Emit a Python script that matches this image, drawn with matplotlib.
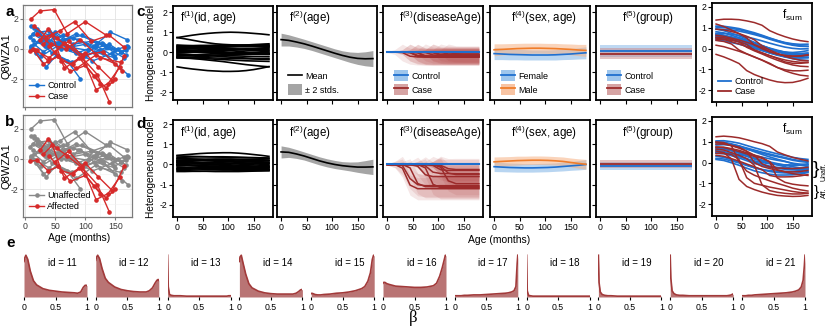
import numpy as np
import matplotlib.pyplot as plt
from matplotlib.lines import Line2D
from matplotlib.patches import Patch

plt.rcParams['font.family'] = ['Liberation Sans', 'DejaVu Sans']
plt.rcParams['mathtext.fontset'] = 'custom'
plt.rcParams['mathtext.rm'] = 'Liberation Sans'
plt.rcParams['mathtext.default'] = 'regular'
plt.rcParams['axes.unicode_minus'] = False

# ------------------------------------------------------------------ data
# individuals: 14 controls followed by 10 cases
GROUP = ['Control'] * 14 + ['Case'] * 10
SEX = ['M', 'F', 'M', 'F', 'F', 'M', 'M', 'F', 'M', 'F', 'M', 'F', 'F', 'M',
       'M', 'F', 'F', 'M', 'F', 'M', 'F', 'M', 'F', 'M']
AFFECTED = [False] * 14 + [False, False, True, True, True, True, False, False, False, True]

# raw measurements (panels a, b)
RAW_AGES = [
    [10, 22, 40, 65, 95, 130],
    [12, 28, 50, 80, 110, 150, 170],
    [8, 20, 35, 60, 90],
    [15, 30, 55, 75, 100, 135, 165],
    [10, 25, 45, 70, 92],
    [20, 40, 60, 85, 120, 160],
    [12, 32, 48, 75, 105, 140, 168],
    [18, 35, 52, 78, 115, 150],
    [25, 50, 80, 115, 142, 170],
    [10, 30, 60, 100, 130, 171],
    [14, 36, 62, 88, 125, 155],
    [22, 45, 70, 98, 128, 160, 172],
    [9, 26, 58, 84, 112, 145],
    [30, 55, 85, 118, 148, 168],
    [10, 24, 48, 70, 100, 135],
    [15, 35, 58, 82, 110, 140, 165],
    [8, 20, 38, 55, 75, 100, 125],
    [25, 38, 52, 70, 95, 120, 140],
    [30, 45, 65, 90, 115, 135, 150],
    [40, 60, 80, 100, 122, 145, 165],
    [12, 30, 55, 85, 118, 150],
    [20, 42, 68, 92, 125, 160],
    [16, 40, 64, 96, 130, 162],
    [50, 72, 95, 118, 138, 158],
]
RAW_VALS = [
    [1.5, 1.1, 1.2, 0.6, 0.9, 0.3],
    [1.0, 0.6, 1.1, 0.3, 0.5, -0.1, 0.2],
    [0.8, 1.3, 0.2, 0.5, -0.3],
    [0.3, -0.2, 0.4, 0.0, -0.5, 0.1, -0.6],
    [0.1, 0.5, -0.3, -0.8, -2.0],
    [1.2, 0.9, 0.5, 1.0, 0.4, -0.2],
    [0.6, 0.2, 0.8, 0.1, -0.1, 0.3, -0.4],
    [-0.3, -1.2, -0.4, -0.9, -0.2, -0.6],
    [0.9, 0.4, 0.7, 0.2, 1.1, 0.6],
    [0.2, 0.7, 0.0, 0.3, -0.3, -1.7],
    [1.4, 0.4, 0.9, 0.6, -0.1, 0.0],
    [0.5, 1.0, 0.2, -0.4, 0.4, -0.2, 0.1],
    [0.0, -0.5, 0.3, -0.2, -0.8, -0.3],
    [0.8, 0.1, -0.3, 0.2, -0.5, -0.1],
    [2.0, 2.5, 2.6, 1.0, 1.8, 0.9],
    [1.5, 0.8, 1.2, 1.8, 0.5, 0.9, 0.1],
    [-0.15, -0.1, -0.8, -0.5, -1.5, -1.1, -2.3],
    [0.6, 1.3, 0.7, 0.2, -0.6, -1.7, -3.5],
    [0.3, 0.9, -1.3, -0.6, -1.8, -2.6, -2.0],
    [0.2, -0.8, -1.0, -0.3, -1.2, -2.1, -0.5],
    [0.0, -1.0, -0.5, -1.3, -0.4, -1.0],
    [1.0, 0.3, 0.0, 0.6, -0.6, -0.9],
    [-0.1, -0.6, 0.4, -0.4, -0.2, -1.5],
    [-0.2, 0.5, -0.5, -2.7, -2.3, -1.2],
]

# model components on a common age grid (months)
AGE = np.array([0, 15, 30, 45, 60, 75, 90, 105, 120, 135, 150, 165, 180])

# homogeneous model
F1_HOM = [
    [0.30, 0.31, 0.32, 0.33, 0.33, 0.34, 0.34, 0.34, 0.34, 0.33, 0.33, 0.32, 0.31],
    [0.22, 0.22, 0.21, 0.20, 0.19, 0.18, 0.17, 0.16, 0.15, 0.14, 0.13, 0.12, 0.11],
    [0.15, 0.17, 0.19, 0.21, 0.23, 0.25, 0.27, 0.28, 0.29, 0.30, 0.30, 0.30, 0.30],
    [0.08, 0.09, 0.10, 0.11, 0.12, 0.12, 0.12, 0.12, 0.12, 0.11, 0.10, 0.09, 0.08],
    [0.02, 0.01, 0.00, -0.01, -0.02, -0.03, -0.04, -0.05, -0.06, -0.07, -0.08, -0.09, -0.10],
    [-0.05, -0.03, -0.01, 0.01, 0.03, 0.05, 0.07, 0.09, 0.11, 0.13, 0.15, 0.17, 0.19],
    [-0.12, -0.13, -0.14, -0.15, -0.16, -0.17, -0.18, -0.19, -0.20, -0.21, -0.22, -0.23, -0.24],
    [-0.18, -0.16, -0.14, -0.12, -0.10, -0.08, -0.06, -0.05, -0.04, -0.03, -0.02, -0.02, -0.02],
    [-0.25, -0.26, -0.27, -0.28, -0.29, -0.30, -0.31, -0.32, -0.33, -0.34, -0.35, -0.36, -0.37],
    [0.35, 0.33, 0.31, 0.28, 0.25, 0.22, 0.19, 0.16, 0.13, 0.10, 0.07, 0.04, 0.02],
    [-0.28, -0.27, -0.25, -0.23, -0.21, -0.19, -0.17, -0.15, -0.13, -0.11, -0.10, -0.09, -0.08],
    [0.12, 0.11, 0.09, 0.07, 0.05, 0.03, 0.01, -0.01, -0.03, -0.05, -0.07, -0.09, -0.11],
    [-0.02, 0.00, 0.02, 0.04, 0.06, 0.08, 0.10, 0.12, 0.14, 0.16, 0.18, 0.20, 0.22],
    [0.25, 0.26, 0.27, 0.28, 0.29, 0.30, 0.31, 0.32, 0.33, 0.35, 0.37, 0.39, 0.41],
    [0.72, 0.78, 0.84, 0.89, 0.93, 0.96, 0.98, 0.99, 0.98, 0.96, 0.93, 0.90, 0.86],
    [0.72, 0.66, 0.59, 0.52, 0.46, 0.41, 0.38, 0.36, 0.35, 0.35, 0.35, 0.36, 0.37],
    [-0.74, -0.80, -0.85, -0.89, -0.93, -0.95, -0.97, -0.97, -0.96, -0.93, -0.88, -0.81, -0.73],
    [-0.26, -0.29, -0.32, -0.36, -0.40, -0.44, -0.48, -0.53, -0.58, -0.63, -0.67, -0.71, -0.74],
    [-0.30, -0.31, -0.32, -0.33, -0.34, -0.36, -0.38, -0.40, -0.42, -0.44, -0.45, -0.46, -0.47],
    [0.28, 0.27, 0.25, 0.22, 0.19, 0.15, 0.11, 0.07, 0.03, 0.00, -0.03, -0.06, -0.08],
    [0.05, 0.04, 0.03, 0.02, 0.01, -0.01, -0.03, -0.05, -0.07, -0.09, -0.11, -0.12, -0.13],
    [-0.10, -0.11, -0.13, -0.15, -0.17, -0.20, -0.23, -0.26, -0.28, -0.30, -0.32, -0.33, -0.34],
    [0.18, 0.19, 0.20, 0.21, 0.22, 0.23, 0.24, 0.25, 0.26, 0.26, 0.27, 0.27, 0.27],
    [-0.20, -0.19, -0.18, -0.17, -0.16, -0.15, -0.14, -0.13, -0.12, -0.11, -0.10, -0.09, -0.08],
]
F2_HOM = [0.62, 0.58, 0.50, 0.41, 0.30, 0.18, 0.06, -0.06, -0.17, -0.26, -0.32, -0.34, -0.33]
F2_HOM_SD = [0.32, 0.28, 0.25, 0.23, 0.22, 0.22, 0.22, 0.22, 0.23, 0.26, 0.30, 0.35, 0.40]
F3_HOM = [  # one row per case
    [0, 0, 0, 0, 0, 0, -0.03, -0.17, -0.20, -0.20, -0.20, -0.20, -0.20],
    [0, 0, 0, 0, -0.03, -0.19, -0.22, -0.22, -0.22, -0.22, -0.22, -0.22, -0.22],
    [0, 0, 0, -0.03, -0.21, -0.25, -0.25, -0.25, -0.25, -0.25, -0.25, -0.25, -0.25],
    [0, 0, -0.03, -0.21, -0.25, -0.25, -0.25, -0.25, -0.25, -0.25, -0.25, -0.25, -0.25],
    [0, 0, 0, 0, 0, 0, 0, -0.02, -0.10, -0.12, -0.12, -0.12, -0.12],
    [0, 0, 0, 0, 0, -0.02, -0.15, -0.18, -0.18, -0.18, -0.18, -0.18, -0.18],
    [0, 0, 0, 0, 0, 0, 0, 0, -0.02, -0.09, -0.10, -0.10, -0.10],
    [0, 0, 0, -0.03, -0.17, -0.20, -0.20, -0.20, -0.20, -0.20, -0.20, -0.20, -0.20],
    [0, 0, 0, 0, 0, 0, -0.02, -0.12, -0.14, -0.14, -0.14, -0.14, -0.14],
    [0, 0, 0, 0, -0.04, -0.22, -0.25, -0.25, -0.25, -0.25, -0.25, -0.25, -0.25],
]
F3_HOM_SD = [
    [0.02, 0.02, 0.02, 0.02, 0.02, 0.12, 0.42, 0.40, 0.40, 0.40, 0.40, 0.40, 0.40],
    [0.02, 0.02, 0.02, 0.12, 0.42, 0.40, 0.40, 0.40, 0.40, 0.40, 0.40, 0.40, 0.40],
    [0.02, 0.02, 0.12, 0.42, 0.40, 0.40, 0.40, 0.40, 0.40, 0.40, 0.40, 0.40, 0.40],
    [0.02, 0.12, 0.42, 0.40, 0.40, 0.40, 0.40, 0.40, 0.40, 0.40, 0.40, 0.40, 0.40],
    [0.02, 0.02, 0.02, 0.02, 0.02, 0.02, 0.12, 0.42, 0.40, 0.40, 0.40, 0.40, 0.40],
    [0.02, 0.02, 0.02, 0.02, 0.12, 0.42, 0.40, 0.40, 0.40, 0.40, 0.40, 0.40, 0.40],
    [0.02, 0.02, 0.02, 0.02, 0.02, 0.02, 0.02, 0.12, 0.42, 0.40, 0.40, 0.40, 0.40],
    [0.02, 0.02, 0.12, 0.42, 0.40, 0.40, 0.40, 0.40, 0.40, 0.40, 0.40, 0.40, 0.40],
    [0.02, 0.02, 0.02, 0.02, 0.02, 0.12, 0.42, 0.40, 0.40, 0.40, 0.40, 0.40, 0.40],
    [0.02, 0.02, 0.02, 0.12, 0.42, 0.40, 0.40, 0.40, 0.40, 0.40, 0.40, 0.40, 0.40],
]
F4_HOM = {
    'F': [-0.08, -0.10, -0.12, -0.13, -0.14, -0.15, -0.15, -0.15, -0.14, -0.12, -0.10, -0.07, -0.04],
    'M': [0.11, 0.13, 0.15, 0.17, 0.18, 0.19, 0.19, 0.18, 0.17, 0.15, 0.13, 0.10, 0.08],
}
F4_HOM_SD = [0.30, 0.28, 0.27, 0.26, 0.26, 0.25, 0.25, 0.25, 0.26, 0.26, 0.27, 0.28, 0.30]
F5_HOM = {'Control': 0.05, 'Case': -0.08}
F5_HOM_SD = 0.28

# heterogeneous model
F1_HET = [
    [0.35, 0.36, 0.37, 0.38, 0.38, 0.38, 0.38, 0.37, 0.36, 0.35, 0.34, 0.33, 0.32],
    [0.28, 0.27, 0.26, 0.25, 0.24, 0.22, 0.20, 0.18, 0.16, 0.14, 0.12, 0.10, 0.08],
    [0.20, 0.22, 0.24, 0.25, 0.26, 0.27, 0.27, 0.27, 0.26, 0.25, 0.24, 0.23, 0.22],
    [0.12, 0.12, 0.11, 0.10, 0.09, 0.08, 0.06, 0.04, 0.02, 0.00, -0.02, -0.04, -0.06],
    [0.05, 0.06, 0.08, 0.10, 0.12, 0.13, 0.14, 0.15, 0.15, 0.15, 0.14, 0.13, 0.12],
    [-0.02, -0.03, -0.05, -0.07, -0.09, -0.11, -0.13, -0.15, -0.17, -0.19, -0.21, -0.23, -0.25],
    [-0.08, -0.07, -0.05, -0.03, -0.01, 0.01, 0.03, 0.04, 0.05, 0.06, 0.06, 0.06, 0.05],
    [-0.15, -0.16, -0.17, -0.18, -0.19, -0.20, -0.21, -0.22, -0.23, -0.24, -0.25, -0.26, -0.27],
    [-0.22, -0.20, -0.18, -0.16, -0.14, -0.13, -0.12, -0.11, -0.11, -0.11, -0.11, -0.12, -0.13],
    [-0.30, -0.31, -0.32, -0.33, -0.34, -0.35, -0.35, -0.35, -0.35, -0.34, -0.33, -0.32, -0.30],
    [0.30, 0.29, 0.27, 0.25, 0.22, 0.19, 0.16, 0.13, 0.10, 0.07, 0.04, 0.01, -0.02],
    [0.00, 0.01, 0.02, 0.02, 0.02, 0.01, 0.00, -0.02, -0.04, -0.06, -0.08, -0.10, -0.12],
    [-0.25, -0.24, -0.23, -0.22, -0.21, -0.20, -0.19, -0.18, -0.17, -0.16, -0.16, -0.16, -0.16],
    [0.15, 0.17, 0.19, 0.20, 0.21, 0.22, 0.22, 0.22, 0.22, 0.21, 0.20, 0.19, 0.18],
    [0.45, 0.48, 0.51, 0.54, 0.56, 0.57, 0.58, 0.58, 0.56, 0.53, 0.49, 0.45, 0.40],
    [0.42, 0.41, 0.40, 0.39, 0.38, 0.37, 0.36, 0.35, 0.34, 0.33, 0.32, 0.31, 0.30],
    [0.00, -0.03, -0.06, -0.09, -0.12, -0.15, -0.18, -0.20, -0.23, -0.25, -0.27, -0.29, -0.30],
    [0.20, 0.17, 0.13, 0.09, 0.05, 0.01, -0.03, -0.07, -0.11, -0.15, -0.19, -0.22, -0.25],
    [0.10, 0.09, 0.07, 0.05, 0.02, -0.01, -0.05, -0.09, -0.13, -0.17, -0.20, -0.23, -0.25],
    [-0.05, -0.05, -0.06, -0.06, -0.07, -0.07, -0.08, -0.08, -0.09, -0.09, -0.10, -0.10, -0.10],
    [-0.20, -0.21, -0.22, -0.23, -0.24, -0.25, -0.25, -0.25, -0.24, -0.23, -0.22, -0.21, -0.20],
    [0.10, 0.10, 0.10, 0.09, 0.09, 0.08, 0.08, 0.07, 0.07, 0.06, 0.06, 0.05, 0.05],
    [0.20, 0.21, 0.22, 0.23, 0.24, 0.24, 0.24, 0.24, 0.23, 0.22, 0.21, 0.20, 0.20],
    [-0.35, -0.35, -0.34, -0.34, -0.33, -0.33, -0.32, -0.32, -0.31, -0.31, -0.30, -0.30, -0.30],
]
F2_HET = [0.62, 0.60, 0.52, 0.42, 0.30, 0.18, 0.08, 0.00, -0.06, -0.10, -0.13, -0.13, -0.12]
F2_HET_SD = [0.30, 0.25, 0.22, 0.20, 0.20, 0.20, 0.20, 0.20, 0.20, 0.22, 0.26, 0.32, 0.38]
F3_HET = [
    [0, 0, 0, 0, 0, 0, 0, -0.04, -0.21, -0.25, -0.25, -0.25, -0.25],
    [0, 0, 0, 0, 0, -0.07, -0.38, -0.45, -0.45, -0.45, -0.45, -0.45, -0.45],
    [0, 0, -0.18, -1.02, -1.20, -1.20, -1.20, -1.20, -1.20, -1.20, -1.20, -1.20, -1.20],
    [0, 0, -0.05, -0.70, -1.00, -1.05, -1.05, -1.05, -1.05, -1.05, -1.05, -1.05, -1.05],
    [0, 0, 0, 0, 0, -0.17, -0.98, -1.15, -1.15, -1.15, -1.15, -1.15, -1.15],
    [0, 0, 0, 0, 0, 0, 0, -0.14, -0.81, -0.95, -0.95, -0.95, -0.95],
    [0, 0, 0, 0, 0, 0, -0.05, -0.26, -0.30, -0.30, -0.30, -0.30, -0.30],
    [0, 0, 0, 0, -0.09, -0.51, -0.60, -0.60, -0.60, -0.60, -0.60, -0.60, -0.60],
    [0, 0, 0, 0, 0, 0, 0, -0.08, -0.43, -0.50, -0.50, -0.50, -0.50],
    [0, 0, 0, -0.17, -0.94, -1.10, -1.10, -1.10, -1.10, -1.10, -1.10, -1.10, -1.10],
]
F3_HET_SD = [
    [0.03, 0.03, 0.03, 0.03, 0.03, 0.03, 0.15, 0.45, 0.50, 0.55, 0.55, 0.55, 0.55],
    [0.03, 0.03, 0.03, 0.03, 0.15, 0.45, 0.50, 0.55, 0.55, 0.55, 0.55, 0.55, 0.55],
    [0.03, 0.15, 0.45, 0.50, 0.55, 0.55, 0.55, 0.55, 0.55, 0.55, 0.55, 0.55, 0.55],
    [0.03, 0.15, 0.45, 0.50, 0.55, 0.55, 0.55, 0.55, 0.55, 0.55, 0.55, 0.55, 0.55],
    [0.03, 0.03, 0.03, 0.03, 0.15, 0.45, 0.50, 0.55, 0.55, 0.55, 0.55, 0.55, 0.55],
    [0.03, 0.03, 0.03, 0.03, 0.03, 0.03, 0.15, 0.45, 0.50, 0.55, 0.55, 0.55, 0.55],
    [0.03, 0.03, 0.03, 0.03, 0.03, 0.15, 0.45, 0.50, 0.55, 0.55, 0.55, 0.55, 0.55],
    [0.03, 0.03, 0.03, 0.15, 0.45, 0.50, 0.55, 0.55, 0.55, 0.55, 0.55, 0.55, 0.55],
    [0.03, 0.03, 0.03, 0.03, 0.03, 0.03, 0.15, 0.45, 0.50, 0.55, 0.55, 0.55, 0.55],
    [0.03, 0.03, 0.15, 0.45, 0.50, 0.55, 0.55, 0.55, 0.55, 0.55, 0.55, 0.55, 0.55],
]
F4_HET = {
    'F': [-0.11, -0.13, -0.15, -0.16, -0.17, -0.17, -0.16, -0.15, -0.13, -0.10, -0.07, -0.04, 0.00],
    'M': [0.13, 0.15, 0.17, 0.19, 0.20, 0.21, 0.21, 0.20, 0.18, 0.15, 0.10, 0.05, 0.01],
}
F4_HET_SD = [0.24, 0.23, 0.22, 0.22, 0.21, 0.21, 0.21, 0.21, 0.21, 0.22, 0.22, 0.23, 0.24]
F5_HET = {'Control': -0.06, 'Case': 0.04}
F5_HET_SD = 0.2

F3_CTRL_SD = 0.05

# posterior densities of beta (panel e), scaled to their maxima
BETA = [0, 0.01, 0.03, 0.06, 0.1, 0.15, 0.2, 0.3, 0.4, 0.5, 0.6, 0.7, 0.8, 0.85, 0.9, 0.94, 0.97, 0.99, 1.0]
BETA_IDS = [11, 12, 13, 14, 15, 16, 17, 18, 19, 20, 21]
BETA_DENS = [
    [0.85, 0.93, 1.0, 0.9, 0.62, 0.39, 0.29, 0.2, 0.16, 0.14, 0.12, 0.11, 0.1, 0.09, 0.12, 0.23, 0.28, 0.28, 0.27],
    [0.88, 0.95, 1.0, 0.92, 0.68, 0.45, 0.35, 0.24, 0.18, 0.15, 0.13, 0.12, 0.12, 0.15, 0.22, 0.33, 0.4, 0.42, 0.4],
    [1.0, 0.25, 0.06, 0.04, 0.03, 0.03, 0.03, 0.02, 0.02, 0.02, 0.02, 0.02, 0.02, 0.02, 0.02, 0.02, 0.03, 0.03, 0.03],
    [0.85, 0.96, 1.0, 0.8, 0.55, 0.32, 0.22, 0.14, 0.1, 0.08, 0.07, 0.07, 0.07, 0.07, 0.09, 0.13, 0.17, 0.18, 0.17],
    [0.08, 0.09, 0.08, 0.06, 0.05, 0.05, 0.06, 0.07, 0.09, 0.1, 0.12, 0.15, 0.2, 0.25, 0.38, 0.58, 0.9, 1.0, 0.98],
    [0.33, 0.35, 0.35, 0.32, 0.3, 0.28, 0.26, 0.25, 0.24, 0.23, 0.23, 0.24, 0.27, 0.33, 0.5, 0.7, 0.88, 1.0, 0.98],
    [0.03, 0.03, 0.03, 0.03, 0.03, 0.04, 0.04, 0.05, 0.05, 0.06, 0.07, 0.08, 0.09, 0.1, 0.12, 0.15, 0.25, 0.8, 1.0],
    [1.0, 0.15, 0.04, 0.03, 0.02, 0.02, 0.02, 0.02, 0.02, 0.02, 0.02, 0.02, 0.02, 0.02, 0.02, 0.02, 0.02, 0.02, 0.02],
    [1.0, 0.35, 0.12, 0.06, 0.04, 0.03, 0.03, 0.02, 0.02, 0.02, 0.02, 0.02, 0.02, 0.02, 0.02, 0.02, 0.02, 0.02, 0.02],
    [1.0, 0.45, 0.15, 0.08, 0.05, 0.04, 0.04, 0.03, 0.03, 0.03, 0.03, 0.03, 0.03, 0.03, 0.03, 0.04, 0.05, 0.07, 0.06],
    [0.03, 0.03, 0.03, 0.03, 0.04, 0.04, 0.05, 0.06, 0.07, 0.08, 0.09, 0.1, 0.12, 0.14, 0.17, 0.24, 0.4, 0.75, 1.0],
]

# ------------------------------------------------------------------ style
BLUE_RAW = '#1b72d1'
RED_RAW = '#d62a2a'
GREY_RAW = '#8a8a8a'
BLUE = '#1f6fcf'
DARKRED = '#9c2b2b'
ORANGE = '#f07d2a'
LBLUE = '#7fb3e6'
LORANGE = '#f6b184'
PINK = '#c98686'
TICK_FS = 6.3

W, H = 830, 327
fig = plt.figure(figsize=(8.3, 3.27), dpi=100)


def add_ax(left, top, width, height):
    return fig.add_axes([left / W, 1 - (top + height) / H, width / W, height / H])


def style_box(ax, ylim, show_x, show_y):
    ax.set_xlim(-8, 188)
    ax.set_ylim(*ylim)
    ax.set_xticks([0, 50, 100, 150])
    ax.set_yticks([-2, -1, 0, 1, 2])
    for s in ax.spines.values():
        s.set_linewidth(1.3)
    ax.tick_params(length=3, width=0.8, labelsize=TICK_FS, pad=1.0,
                   labelbottom=show_x, labelleft=show_y)


# ------------------------------------------------------------------ panels a, b
for row, top in enumerate([5, 115]):
    ax = add_ax(23, top, 109, 102)
    order = list(range(24))
    if row == 1:
        order = [i for i in order if not AFFECTED[i]] + [i for i in order if AFFECTED[i]]
    for i in order:
        if row == 0:
            col = BLUE_RAW if GROUP[i] == 'Control' else RED_RAW
        else:
            col = RED_RAW if AFFECTED[i] else GREY_RAW
        ax.plot(RAW_AGES[i], RAW_VALS[i], '-o', color=col, lw=1.0, ms=2.3)
    ax.set_xlim(-4, 178)
    ax.set_ylim(-3.85, 2.9)
    ax.set_xticks([0, 50, 100, 150])
    ax.set_yticks([-2, 0, 2])
    ax.set_xticks([25, 75, 125, 175], minor=True)
    ax.set_yticks([-3, -1, 1], minor=True)
    ax.grid(True, which='major', color='#e3e3e3', lw=0.6)
    ax.grid(True, which='minor', color='#f1f1f1', lw=0.4)
    ax.set_axisbelow(True)
    for s in ax.spines.values():
        s.set_color('#7a7a7a')
        s.set_linewidth(0.9)
    ax.tick_params(which='major', length=2.5, color='#7a7a7a', labelcolor='#3a3a3a',
                   labelsize=TICK_FS, pad=1.0, labelbottom=(row == 1))
    ax.tick_params(which='minor', length=0)
    fig.text(6 / W, 1 - (top + 51) / H, 'Q8WZA1', rotation=90, fontsize=8,
             ha='center', va='center')
    if row == 0:
        labels = [('Control', BLUE_RAW), ('Case', RED_RAW)]
    else:
        labels = [('Unaffected', GREY_RAW), ('Affected', RED_RAW)]
    handles = [Line2D([], [], color=c, marker='o', ms=2.3, lw=1.0) for _, c in labels]
    ax.legend(handles, [l for l, _ in labels], loc='lower left', frameon=False,
              fontsize=6.5, handlelength=1.6, handletextpad=0.4, labelspacing=0.15,
              borderaxespad=0.3)

# ------------------------------------------------------------------ panels c, d
COL_LEFT = [173, 277, 383, 490, 596]
ROWS = [
    dict(top=6, h=94, ylim=(-2.4, 2.3), f1=F1_HOM, f2=F2_HOM, f2sd=F2_HOM_SD,
         f3=F3_HOM, f3sd=F3_HOM_SD, f4=F4_HOM, f4sd=F4_HOM_SD, f5=F5_HOM,
         f5sd=F5_HOM_SD, stop=3, sh=100, label='Homogeneous model'),
    dict(top=120, h=97, ylim=(-2.6, 2.2), f1=F1_HET, f2=F2_HET, f2sd=F2_HET_SD,
         f3=F3_HET, f3sd=F3_HET_SD, f4=F4_HET, f4sd=F4_HET_SD, f5=F5_HET,
         f5sd=F5_HET_SD, stop=117, sh=100, label='Heterogeneous model'),
]
TITLES = [r'f$^{(1)}$(id, age)', r'f$^{(2)}$(age)', r'f$^{(3)}$(diseaseAge)',
          r'f$^{(4)}$(sex, age)', r'f$^{(5)}$(group)']
TITLE_X = [0.07, 0.12, 0.16, 0.21, 0.26]
LEG_KW = dict(loc='lower left', frameon=False, fontsize=6.5, handlelength=1.5,
              handleheight=1.5, handletextpad=0.4, labelspacing=0.3,
              borderaxespad=0.15, bbox_to_anchor=(0.06, 0.0))

case_idx = [i for i in range(24) if GROUP[i] == 'Case']

for r, R in enumerate(ROWS):
    show_x = (r == 1)
    axes = [add_ax(l, R['top'], 100, R['h']) for l in COL_LEFT]
    for k, ax in enumerate(axes):
        style_box(ax, R['ylim'], show_x, k == 0)
        ax.text(TITLE_X[k], 0.87, TITLES[k], transform=ax.transAxes, fontsize=8.3,
                va='center', ha='left')

    f2 = np.array(R['f2'])
    f2sd = np.array(R['f2sd'])

    # f1
    for curve in R['f1']:
        axes[0].plot(AGE, curve, color='black', lw=1.2)

    # f2
    axes[1].fill_between(AGE, f2 - f2sd, f2 + f2sd, color='#a5a5a5', lw=0)
    axes[1].plot(AGE, f2, color='black', lw=1.2)

    # f3
    ax = axes[2]
    for m, s in zip(R['f3'], R['f3sd']):
        m, s = np.array(m), np.array(s)
        ax.fill_between(AGE, m - s, m + s, color='#b03a3a', alpha=0.12, lw=0)
    for m in R['f3']:
        ax.plot(AGE, m, color=DARKRED, lw=1.1)
    zero = np.zeros_like(AGE, dtype=float)
    ax.fill_between(AGE, zero - F3_CTRL_SD, zero + F3_CTRL_SD, color=LBLUE, alpha=0.6, lw=0)
    ax.plot(AGE, zero, color=BLUE, lw=1.5)

    # f4
    ax = axes[3]
    f4sd = np.array(R['f4sd'])
    for sex, lc, bc in [('F', BLUE, LBLUE), ('M', ORANGE, LORANGE)]:
        m = np.array(R['f4'][sex])
        ax.fill_between(AGE, m - f4sd, m + f4sd, color=bc, alpha=0.55, lw=0)
    for sex, lc in [('F', BLUE), ('M', ORANGE)]:
        ax.plot(AGE, R['f4'][sex], color=lc, lw=1.2)

    # f5
    ax = axes[4]
    for grp, bc in [('Control', LBLUE), ('Case', PINK)]:
        lvl = R['f5'][grp]
        ax.fill_between([AGE[0], AGE[-1]], lvl - R['f5sd'], lvl + R['f5sd'],
                        color=bc, alpha=0.5, lw=0)
    for grp, lc in [('Control', BLUE), ('Case', DARKRED)]:
        lvl = R['f5'][grp]
        ax.hlines(lvl, AGE[0], AGE[-1], color=lc, lw=1.3)

    # legends (top row only)
    if r == 0:
        axes[1].legend([Line2D([], [], color='black', lw=1.2),
                        Patch(facecolor='#a5a5a5', lw=0)],
                       ['Mean', '± 2 stds.'], **LEG_KW)
        for ax, entries in [(axes[2], [('Control', BLUE, LBLUE), ('Case', DARKRED, PINK)]),
                            (axes[3], [('Female', BLUE, LBLUE), ('Male', ORANGE, LORANGE)]),
                            (axes[4], [('Control', BLUE, LBLUE), ('Case', DARKRED, PINK)])]:
            hs = [(Patch(facecolor=bc, alpha=0.75, lw=0), Line2D([], [], color=lc, lw=1.3))
                  for _, lc, bc in entries]
            ax.legend(hs, [e[0] for e in entries], **LEG_KW)

    # f_sum
    axs = add_ax(712, R['stop'], 100, R['sh'] - 1)
    style_box(axs, (-2.57, 2.19), show_x, True)
    axs.text(0.7, 0.87, r'f$_{sum}$', transform=axs.transAxes, fontsize=8.5,
             va='center', ha='left')
    totals = []
    for i in range(24):
        tot = np.array(R['f1'][i]) + f2 + np.array(R['f4'][SEX[i]]) + R['f5'][GROUP[i]]
        if GROUP[i] == 'Case':
            tot = tot + np.array(R['f3'][case_idx.index(i)])
        totals.append(tot)
    for i in range(24):
        if GROUP[i] == 'Control':
            axs.plot(AGE, totals[i], color=BLUE, lw=1.2)
    for i in range(24):
        if GROUP[i] == 'Case':
            axs.plot(AGE, totals[i], color=DARKRED, lw=1.1)
    if r == 0:
        axs.legend([Line2D([], [], color=BLUE, lw=1.3), Line2D([], [], color=DARKRED, lw=1.3)],
                   ['Control', 'Case'], loc='lower left', frameon=False, fontsize=6.5,
                   handlelength=1.4, handletextpad=0.4, labelspacing=0.1,
                   borderaxespad=0.3)
    else:
        ytr = axs.get_yaxis_transform()
        axs.text(1.04, -0.35, '}', transform=ytr, fontsize=14, ha='center', va='center')
        axs.text(1.04, -1.42, '}', transform=ytr, fontsize=11, ha='center', va='center')
        axs.text(1.12, -0.45, 'Unaff.', transform=ytr, fontsize=5,
                 rotation=90, ha='center', va='center')
        axs.text(1.12, -1.45, 'Aff.', transform=ytr, fontsize=5,
                 rotation=90, ha='center', va='center')

    fig.text(151 / W, 1 - (R['top'] + R['h'] / 2) / H, R['label'], rotation=90,
             fontsize=7.3, ha='center', va='center')

# ------------------------------------------------------------------ panel e
for k, (pid, dens) in enumerate(zip(BETA_IDS, BETA_DENS)):
    ax = add_ax(24 + k * 71.8, 254, 63, 43)
    ax.fill_between(BETA, 0, dens, color='#b97474', lw=0)
    ax.plot(BETA, dens, color='#a23a3a', lw=1.2)
    ax.set_xlim(0, 1)
    ax.set_ylim(0, 1.03)
    ax.set_xticks([0, 0.5, 1])
    ax.set_xticklabels(['0', '0.5', '1'])
    ax.set_yticks([])
    for s in ax.spines.values():
        s.set_visible(False)
    ax.tick_params(axis='x', length=2.5, width=0.8, labelsize=TICK_FS, pad=1.5)
    ax.text(0.61, 0.8, f'id = {pid}', transform=ax.transAxes, fontsize=7,
            ha='center', va='center')

# ------------------------------------------------------------------ labels
for letter, x, y in [('a', 10, 12), ('b', 10, 122), ('c', 141, 12), ('d', 141, 124), ('e', 11, 243)]:
    fig.text(x / W, 1 - y / H, letter, fontsize=11, fontweight='bold', ha='center', va='center')
fig.text(79 / W, 1 - 238 / H, 'Age (months)', fontsize=7.5, ha='center', va='center')
fig.text(499 / W, 1 - 240 / H, 'Age (months)', fontsize=7.5, ha='center', va='center')
fig.text(413 / W, 1 - 318 / H, 'β', fontsize=12, ha='center', va='center',
         family=['Liberation Serif', 'DejaVu Serif'])

fig.savefig('out.png', dpi=100)
